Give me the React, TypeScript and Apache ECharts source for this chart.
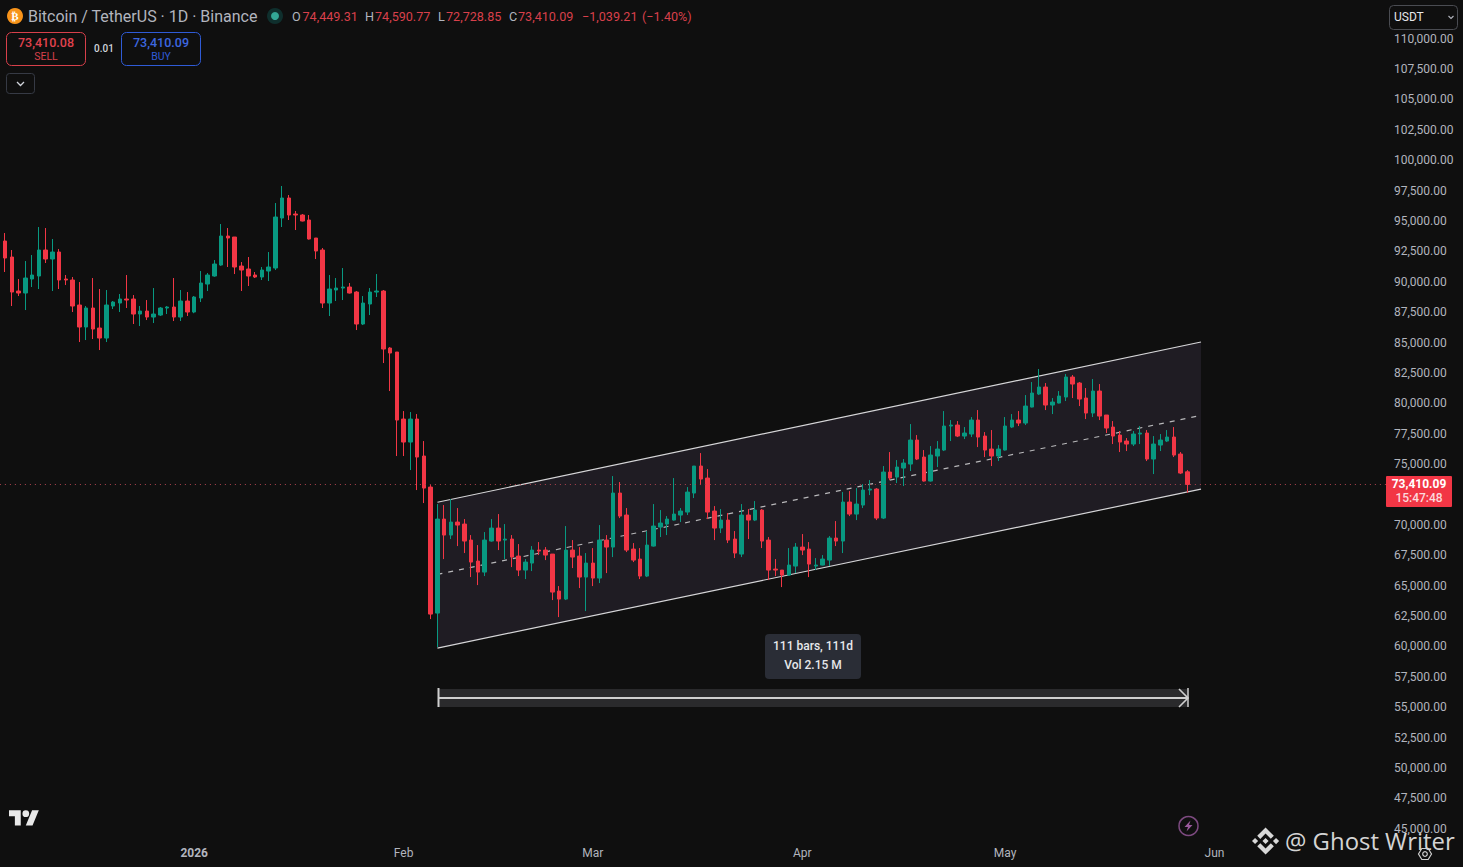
import React, { useEffect, useRef } from "react";
import * as echarts from "echarts";

// One letter per bar: u = close above open, d = close below open. Last bar is 2026-05-28.
const directionRows = [
  "u",
  "ddduuududd",
  "ddudduuudd",
  "uduuududuu",
  "uuuddddduu",
  "uudddddduu",
  "udduuudddd",
  "udddududdd",
  "duududduud",
  "ddduddudud",
  "udddduuuuu",
  "uuuddduddu",
  "dudddduudd",
  "uuududuuud",
  "uduuudduuu",
  "uduuddduuu",
  "duuuduuudd",
  "duddddduud",
  "uuuddd",
];

const highs = [
  94096,94096,92697,90311,91792,92286,94589,94507,93602,92779,90640,90476,90064,88090,90394,89488,89406,88501,89077,90640,88994,88090,88583,89570,88007,88090,90394,89406,89241,88912,90969,90805,91874,94836,94507,93767,91710,92121,90887,91298,92532,96564,97963,97223,95906,95659,95577,93684,92861,90640,90394,91216,89982,89324,88912,89570,90722,89406,84715,84305,79450,79368,79203,76981,73361,71798,71716,72209,71469,70563,69247,68424,69494,70563,70975,70152,69247,68507,67273,68342,68671,68260,67684,65051,69988,68836,68260,67766,68178,70070,69247,74102,73608,71469,68589,68178,69576,71798,71304,70810,73937,71469,73196,74925,75994,74678,71633,71386,71058,69577,71798,71386,72045,71386,69083,67273,66367,68178,68589,69330,68671,67355,67602,69165,70399,72785,72867,73114,73443,73773,73114,74925,76076,75418,75500,78380,77475,76241,76570,76981,79450,78709,78627,78133,78956,79532,77722,77887,76652,78956,79203,79450,80766,81836,82906,81754,80519,81096,82494,82412,81836,81343,82083,81671,79121,78627,77805,77229,77805,78216,77887,77393,77558,77887,78133,76076,74590.77,
];
const bodyTops = [
  93438,93438,92121,89324,90394,90640,92697,92697,92532,92532,90311,90229,88172,87925,87925,86279,88172,88418,88665,88665,88665,87678,87678,87431,87925,88007,88007,88501,88501,88830,89982,90640,91545,93849,93849,93767,91380,91134,90640,91051,91298,95412,96976,96976,95659,95577,95165,93684,92697,89488,89570,89653,89653,89241,88336,89241,89324,89324,84633,84305,78791,78791,78791,75748,73196,70563,70563,70316,70316,70152,68836,67108,68836,69823,69823,68918,68918,67519,67025,68013,68013,68013,67684,64640,68013,68013,67519,66943,66943,68836,68836,72703,72703,70893,68095,67273,68424,69988,70234,70563,70975,71222,72785,74925,74925,73937,71222,70481,70481,68918,70893,70893,71304,71304,68836,66449,66367,66779,68260,68260,68095,66779,67273,69001,69001,71963,71963,71798,72950,73032,73032,74431,74431,74843,75171,77064,77064,75665,75830,76323,78216,78298,78298,77640,78709,78709,77393,76323,76323,78216,78709,78709,79861,80931,81425,81425,80190,80684,82247,82247,81754,80519,81096,81096,79121,78133,77475,76981,77558,77640,77640,76734,77064,77311,77311,75912,74449.31,
];
const bodyBottoms = [
  91710,92039,89241,89159,89159,90311,90558,91957,91957,90229,90229,88090,86362,86362,86197,85456,85456,88090,88336,88583,87431,87431,87184,87184,87349,87925,87184,87184,87596,87596,88748,89899,90558,91463,93684,91298,91051,90558,90476,90476,90969,91216,95330,95577,95577,95083,93602,92615,88336,88336,89406,89570,89159,86609,86609,88254,89241,84551,84223,78709,76899,76899,75665,73114,62747,62829,69247,69247,70070,68754,67025,66203,66203,68754,68754,68836,67437,66367,66367,66943,67930,67602,64557,63981,63981,67437,65791,65791,65709,65709,68260,68260,70810,68013,67190,65874,65874,68342,69905,70152,70481,70893,71140,72703,73855,71140,69823,69823,68836,67767,67684,70481,70481,68754,66367,66367,65956,65956,66696,68013,66861,66696,66779,67190,68754,68754,70975,70975,71716,72950,70645,70645,73937,74020,74760,75089,75500,73691,73691,75748,76241,78216,77393,77393,77558,77311,76241,75748,75748,76241,78133,78462,78462,79779,80849,79944,79944,80108,80602,81671,80437,79285,79285,79038,78051,77393,76899,76734,76734,77558,75500,75500,76652,76981,75830,74349,73410.09,
];
const lows = [
  91216,90887,88090,88912,87760,89653,89488,91628,89324,89488,89817,87596,85127,85292,85374,84469,85127,87843,87596,87925,86609,86444,86937,86690,87267,87431,86855,86855,87267,87500,88418,89324,90500,91400,91298,90722,89324,89735,90394,90229,90146,91051,94589,95165,94343,95050,93560,91957,87925,87267,88501,88583,89120,86115,86526,87349,88830,83400,81096,75748,75748,74595,72950,71881,62336,60032,67273,68918,68342,67767,65791,65133,65874,68700,68013,67273,66614,65874,65627,66285,67602,67190,63899,62500,63899,66532,64886,62994,65051,65298,66120,67437,70645,67848,67025,65627,65791,68300,69083,69247,70440,70316,70893,72292,73361,70563,68836,69412,68589,67355,67437,68918,70399,68178,65545,65874,64968,65900,66120,67602,65791,66367,66750,66696,68342,67767,70810,70481,71469,72538,70481,70563,73773,73526,73279,74513,75418,73650,73650,74843,76159,76981,77311,77146,77311,76487,75665,74925,75336,76200,78051,78216,78298,79750,80766,79532,79203,80080,80273,80519,79861,78791,78956,78709,77640,76734,76076,76159,76570,76734,75336,74266,76159,76899,75665,74266,72728.85,
];

const channelStart = "2026-02-06";
const channelEnd = "2026-05-30";
const channelUpper = [71950, 85130];
const channelMiddle = [66010, 79100];
const channelLower = [59950, 73030];
const lastPrice = 73410.09;

const axisMonthLabels: Record<string, string> = {
  "2026-01-01": "2026",
  "2026-02-01": "Feb",
  "2026-03-01": "Mar",
  "2026-04-01": "Apr",
  "2026-05-01": "May",
  "2026-06-01": "Jun",
};

const firstBarDate = Date.UTC(2025, 11, 3);
const categoryCount = 206;
const categories: string[] = [];
for (let i = 0; i < categoryCount; i++) {
  categories.push(new Date(firstBarDate + i * 86400000).toISOString().slice(0, 10));
}

const UP = "#089981";
const DOWN = "#f23645";
const BG = "#0f0f0f";
const FONT = "Roboto";
const HEADER_RED = "#d8404b";

echarts.graphic.registerShape(
  "tvlogo",
  echarts.graphic.extendPath(
    "M14 22H7V11H0V4h14v18zM28 22h-8l7.5-18h8L28 22zM24 8a4 4 0 1 1-8 0a4 4 0 1 1 8 0z",
    {}
  )
);
echarts.graphic.registerShape(
  "binance",
  echarts.graphic.extendPath(
    "M16.624 13.9202l2.7175 2.7154-7.353 7.353-7.353-7.352 2.7175-2.7164 4.6355 4.6595 4.6356-4.6595zm4.6366-4.6366L24 12l-2.7154 2.7164L18.5682 12l2.6924-2.7164zm-9.272.001l2.7163 2.6914-2.7164 2.7174v-.001L9.2721 12l2.7164-2.7154zm-9.2722-.001L5.4088 12l-2.6914 2.6924L0 12l2.7164-2.7164zM11.9885.0115l7.353 7.329-2.7174 2.7154-4.6356-4.6356-4.6355 4.6595-2.7174-2.7154 7.353-7.353z",
    {}
  )
);

function label(text: string, x: number, y: number, fill: string, font: string, align = "left") {
  return {
    type: "text",
    x,
    y,
    z: 100,
    silent: true,
    style: { text, fill, font, textAlign: align, textVerticalAlign: "middle" },
  };
}

function box(x: number, y: number, width: number, height: number, fill: string, stroke: string, r: number) {
  return {
    type: "rect",
    z: 99,
    silent: true,
    shape: { x, y, width, height, r },
    style: { fill, stroke, lineWidth: stroke === "none" ? 0 : 1 },
  };
}

function seg(x1: number, y1: number, x2: number, y2: number, stroke: string, lineWidth: number) {
  return {
    type: "line",
    z: 100,
    silent: true,
    shape: { x1, y1, x2, y2 },
    style: { stroke, lineWidth },
  };
}

const headerElements = [
  { type: "circle", z: 99, silent: true, shape: { cx: 15, cy: 16, r: 8 }, style: { fill: "#f7931a" } },
  label("₿", 15, 16, "#fff", `bold 11px "DejaVu Sans"`, "center"),
  label("Bitcoin / TetherUS · 1D · Binance", 28, 16, "#b2b5be", `16px ${FONT}`),
  { type: "circle", z: 99, silent: true, shape: { cx: 275, cy: 16, r: 8 }, style: { fill: "#0f2f2d" } },
  { type: "circle", z: 100, silent: true, shape: { cx: 275, cy: 16, r: 4 }, style: { fill: "#33a796" } },
  label("O", 292, 16, "#b2b5be", `12.6px ${FONT}`),
  label("74,449.31", 302.5, 16, HEADER_RED, `12.6px ${FONT}`),
  label("H", 365, 16, "#b2b5be", `12.6px ${FONT}`),
  label("74,590.77", 375, 16, HEADER_RED, `12.6px ${FONT}`),
  label("L", 438, 16, "#b2b5be", `12.6px ${FONT}`),
  label("72,728.85", 446, 16, HEADER_RED, `12.6px ${FONT}`),
  label("C", 509, 16, "#b2b5be", `12.6px ${FONT}`),
  label("73,410.09", 518, 16, HEADER_RED, `12.6px ${FONT}`),
  label("−1,039.21", 582, 16, HEADER_RED, `12.6px ${FONT}`),
  label("(−1.40%)", 642, 16, HEADER_RED, `12.6px ${FONT}`),
  box(6.5, 32.5, 79, 33, BG, "#d8404b", 5),
  label("73,410.08", 46, 42, "#e0424e", `500 12.5px ${FONT}`, "center"),
  label("SELL", 46, 56, "#d8404b", `10.5px ${FONT}`, "center"),
  label("0.01", 104, 48, "#d1d4dc", `500 10px ${FONT}`, "center"),
  box(121.5, 32.5, 79, 33, BG, "#2f5bd6", 5),
  label("73,410.09", 161, 42, "#3d67e0", `500 12.5px ${FONT}`, "center"),
  label("BUY", 161, 56, "#2f5bd6", `10.5px ${FONT}`, "center"),
  box(6.5, 73.5, 28, 20, BG, "#363a45", 3),
  {
    type: "polyline", z: 100, silent: true,
    shape: { points: [[17, 82], [20.5, 85.5], [24, 82]] },
    style: { stroke: "#d1d4dc", fill: "none", lineWidth: 1.3 },
  },
  box(1389.5, 5.5, 68, 24, BG, "#4a4c52", 4),
  label("USDT", 1394, 17, "#e6e7ea", `12px ${FONT}`),
  {
    type: "polyline", z: 100, silent: true,
    shape: { points: [[1448.5, 16], [1451, 18.5], [1453.5, 16]] },
    style: { stroke: "#b2b5be", fill: "none", lineWidth: 1.1 },
  },
];

const rangeToolElements = [
  box(438, 689, 750, 18, "#2a2a2c", "none", 0),
  seg(438, 698, 1188, 698, "#cfcfcf", 2),
  seg(438.5, 688, 438.5, 707, "#cfcfcf", 2),
  seg(1188, 688, 1188, 707, "#cfcfcf", 1.5),
  {
    type: "polyline", z: 100, silent: true,
    shape: { points: [[1179, 689], [1188, 698], [1179, 707]] },
    style: { stroke: "#cfcfcf", fill: "none", lineWidth: 1.6 },
  },
  box(765, 634, 96, 45, "#2a2d36", "none", 4),
  label("111 bars, 111d", 813, 646, "#e6e7ea", `500 12px ${FONT}`, "center"),
  label("Vol 2.15 M", 813, 665, "#e6e7ea", `500 12px ${FONT}`, "center"),
];

const priceTagElements = [
  box(1386, 476, 66, 31, DOWN, "none", 1),
  label("73,410.09", 1419, 483.5, "#ffffff", `bold 12px ${FONT}`, "center"),
  label("15:47:48", 1419, 498, "#fbdadd", `500 12px ${FONT}`, "center"),
];

const cornerElements = [
  { type: "tvlogo", x: 9, y: 807, scaleX: 0.84, scaleY: 0.84, z: 100, silent: true, style: { fill: "#e8e8e8" } },
  { type: "circle", z: 100, silent: true, shape: { cx: 1188.5, cy: 826, r: 9.5 }, style: { fill: "none", stroke: "#7d4a80", lineWidth: 1.5 } },
  {
    type: "polygon", z: 100, silent: true,
    shape: { points: [[1190.5, 820.5], [1184.5, 827], [1188, 827], [1186.5, 831.5], [1192.5, 825], [1189, 825]] },
    style: { fill: "#9a5a9c" },
  },
  {
    type: "polygon", z: 100, silent: true,
    shape: { points: [[1418.5, 854], [1421.8, 848.5], [1428.2, 848.5], [1431.5, 854], [1428.2, 859.5], [1421.8, 859.5]] },
    style: { fill: "none", stroke: "#cfcfcf", lineWidth: 1.2 },
  },
  { type: "circle", z: 100, silent: true, shape: { cx: 1425, cy: 854, r: 2.3 }, style: { fill: "none", stroke: "#cfcfcf", lineWidth: 1.2 } },
  { type: "binance", x: 1252, y: 827.5, scaleX: 1.13, scaleY: 1.13, z: 101, silent: true, style: { fill: "#d8d8d8" } },
  label("@ Ghost Writer", 1285, 840.5, "#d4d4d4", `23.9px "Open Sans"`),
];

export default function App() {
  const ref = useRef<HTMLDivElement>(null);

  useEffect(() => {
    document.body.style.margin = "0";
    document.body.style.background = BG;
    const chart = echarts.init(ref.current!, undefined, { renderer: "svg" });

    const barDirections = directionRows.join("");
    const candleData = highs.map((_, i) =>
      barDirections[i] === "u"
        ? [bodyBottoms[i], bodyTops[i], lows[i], highs[i]]
        : [bodyTops[i], bodyBottoms[i], lows[i], highs[i]]
    );

    chart.setOption({
      animation: false,
      backgroundColor: BG,
      tooltip: { show: false },
      grid: {
        left: -5.135,
        top: 39.7,
        width: categoryCount * 6.757,
        height: 790.1,
        containLabel: false,
        outerBoundsMode: "none",
      },
      xAxis: {
        type: "category",
        data: categories,
        boundaryGap: true,
        axisLine: { show: false },
        axisTick: { show: false },
        splitLine: { show: false },
        axisLabel: {
          margin: 17,
          color: "#b2b5be",
          fontFamily: FONT,
          fontSize: 12,
          interval: (_: number, value: string) => value in axisMonthLabels,
          formatter: (value: string) =>
            value === "2026-01-01"
              ? `{y|${axisMonthLabels[value]}}`
              : axisMonthLabels[value] ?? "",
          rich: { y: { fontWeight: "bold", color: "#b2b5be", fontFamily: FONT, fontSize: 12 } },
        },
      },
      yAxis: {
        type: "value",
        position: "right",
        min: 45000,
        max: 110000,
        interval: 2500,
        scale: true,
        axisLine: { show: false },
        axisTick: { show: false },
        splitLine: { show: false },
        axisLabel: {
          margin: 7.2,
          color: "#b2b5be",
          fontFamily: FONT,
          fontSize: 12,
          verticalAlign: "bottom",
          lineHeight: 2,
          formatter: (v: number) =>
            v === 72500
              ? ""
              : v.toLocaleString("en-US", { minimumFractionDigits: 2, maximumFractionDigits: 2 }),
        },
      },
      series: [
        {
          type: "custom",
          z: 1,
          silent: true,
          clip: false,
          data: [[categories.indexOf(channelStart), 0]],
          renderItem: (_: unknown, api: any) => {
            const sx = categories.indexOf(channelStart);
            const ex = categories.indexOf(channelEnd);
            const u0 = api.coord([sx, channelUpper[0]]);
            const u1 = api.coord([ex, channelUpper[1]]);
            const m0 = api.coord([sx, channelMiddle[0]]);
            const m1 = api.coord([ex, channelMiddle[1]]);
            const l0 = api.coord([sx, channelLower[0]]);
            const l1 = api.coord([ex, channelLower[1]]);
            const line = (a: number[], b: number[], extra = {}) => ({
              type: "line",
              shape: { x1: a[0], y1: a[1], x2: b[0], y2: b[1] },
              style: { stroke: "#d6d6d8", lineWidth: 1.2, fill: "none", ...extra },
            });
            return {
              type: "group",
              children: [
                {
                  type: "polygon",
                  shape: { points: [u0, u1, l1, l0] },
                  style: { fill: "#1f1c23" },
                },
                line(u0, u1),
                line(l0, l1),
                line(m0, m1, { lineDash: [5, 6], stroke: "#b8b8ba", lineWidth: 1.2 }),
              ],
            };
          },
        },
        {
          type: "candlestick",
          z: 3,
          silent: true,
          barWidth: 4,
          itemStyle: { color: UP, color0: DOWN, borderColor: UP, borderColor0: DOWN, borderWidth: 1 },
          data: candleData,
          markLine: {
            silent: true,
            symbol: "none",
            label: { show: false },
            lineStyle: { color: "#b04450", type: [1, 4], width: 1 },
            data: [{ yAxis: lastPrice }],
          },
        },
      ],
      graphic: {
        elements: [...headerElements, ...rangeToolElements, ...priceTagElements, ...cornerElements],
      },
    });

    return () => chart.dispose();
  }, []);

  return (
    <div
      ref={ref}
      style={{ position: "absolute", left: 0, top: 0, width: 1463, height: 867 }}
    />
  );
}
